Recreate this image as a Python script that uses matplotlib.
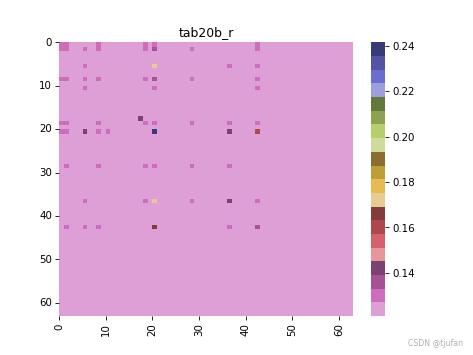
import numpy as np
import matplotlib
matplotlib.use('Agg')
import matplotlib.pyplot as plt
import seaborn as sns

N = 63
background = 0.121

# cells above the background, grouped by the value
cells_013 = {
    0: [0, 1, 8, 18, 20, 42],
    1: [0, 1, 5, 8, 18, 28, 42],
    5: [5, 36, 42],
    8: [0, 1, 5, 8, 18, 28, 42],
    10: [5, 20, 42],
    18: [0, 1, 8, 18, 20, 28, 36, 42],
    20: [0, 1, 8, 10],
    28: [1, 8, 18, 20, 28, 36],
    36: [5, 18, 28, 42],
    42: [1, 5, 8, 36],
}
dark_rows = [1, 8, 42, 17, 20, 20, 36, 5, 36, 42, 20, 20]
dark_cols = [20, 20, 42, 17, 5, 36, 36, 20, 20, 20, 42, 20]
dark_vals = [0.136, 0.136, 0.136, 0.142, 0.142, 0.142, 0.142, 0.172, 0.172, 0.166, 0.16, 0.2415]

tick_values = list(range(0, 61, 10))

data = np.full((N, N), background)
for r, cols in cells_013.items():
    for c in cols:
        data[r, c] = 0.13
for r, c, v in zip(dark_rows, dark_cols, dark_vals):
    data[r, c] = v

fig = plt.figure(figsize=(6.4, 4.8), dpi=74)
ax = fig.add_subplot(111)
sns.heatmap(data, cmap='tab20b_r', ax=ax)

ax.set_xticks(tick_values)
ax.set_xticklabels(tick_values, rotation=90)
ax.set_yticks(tick_values)
ax.set_yticklabels(tick_values, rotation=0)
ax.set_title('tab20b_r')

fig.text(0.977, 0.034, 'CSDN @tjufan', ha='right', va='center', fontsize=7.6, color='#b0b0b0')

fig.savefig('out.png', dpi=74)
